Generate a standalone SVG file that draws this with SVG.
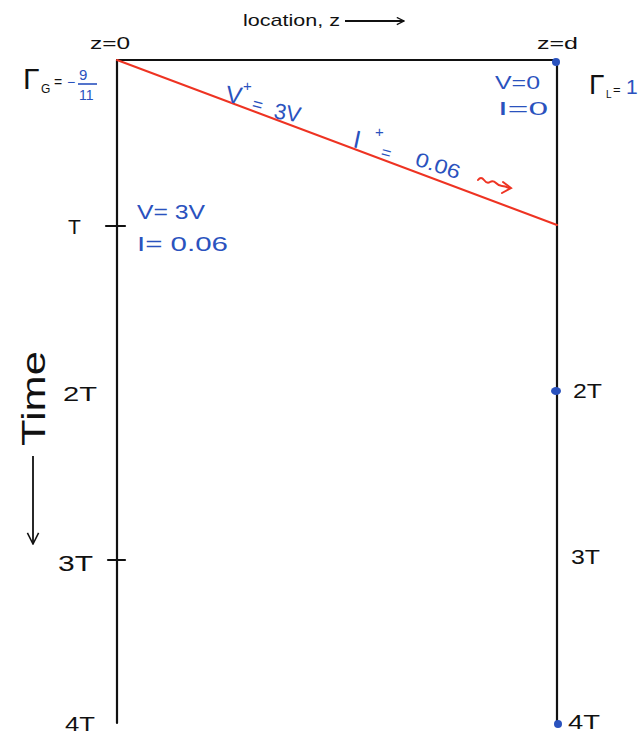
<svg xmlns="http://www.w3.org/2000/svg" width="639" height="748" viewBox="0 0 639 748">
<style>
.k{font-family:"Liberation Sans",Arial,sans-serif;fill:#111}
.b{font-family:"Liberation Sans",Arial,sans-serif;fill:#2a52be}
.ln{stroke:#111;stroke-width:2.2;fill:none;stroke-linecap:round}
.red{stroke:#ee3322;stroke-width:2;fill:none;stroke-linecap:round}
.dot{fill:#2a52be}
</style>
<defs>
<marker id="ah" viewBox="0 0 10 10" refX="9" refY="5" markerWidth="9" markerHeight="9" orient="auto" markerUnits="userSpaceOnUse">
<path d="M1,1 L9,5 L1,9" fill="none" stroke="#111" stroke-width="1.4"/>
</marker>
<marker id="ahd" viewBox="0 0 10 10" refX="9" refY="5" markerWidth="14" markerHeight="14" orient="auto" markerUnits="userSpaceOnUse">
<path d="M1,1 L9,5 L1,9" fill="none" stroke="#111" stroke-width="1.1"/>
</marker>
</defs>
<rect width="639" height="748" fill="#fff"/>
<g id="frame">
<path class="ln" d="M117,60 H557"/>
<path class="ln" d="M117,60 V723"/>
<path class="ln" d="M557,60 V723"/>
<path class="ln" d="M106,226 H125"/>
<path class="ln" d="M108,560 H125"/>
</g>
<g id="connectors">
<path class="red" d="M117,60 L557,225"/>
<path class="red" d="M478,180 q3,-4 6,0 t6,2 t6,1 t6,3 t7,2"/>
<path class="red" d="M503,182 L511,188 L502,193"/>
<path stroke="#111" stroke-width="1.8" fill="none" d="M345,21 H404" marker-end="url(#ah)"/>
<path stroke="#111" stroke-width="1.8" fill="none" d="M33,456 V544" marker-end="url(#ahd)"/>
</g>
<g id="dots">
<circle class="dot" cx="556" cy="62" r="4"/>
<ellipse class="dot" cx="556" cy="391" rx="5" ry="4"/>
<circle class="dot" cx="558" cy="724" r="4"/>
</g>
<g id="labels">
<text class="k" x="243" y="26" font-size="17" textLength="97" lengthAdjust="spacingAndGlyphs">location, z</text>
<text class="k" x="90" y="49" font-size="17" textLength="40" lengthAdjust="spacingAndGlyphs">z=0</text>
<text class="k" x="537" y="49" font-size="17" textLength="41" lengthAdjust="spacingAndGlyphs">z=d</text>
<text class="k" x="23" y="89" font-size="30">Γ</text>
<text class="k" x="41" y="93" font-size="12">G</text>
<text class="k" x="54" y="87" font-size="14">=</text>
<text class="b" x="67" y="87" font-size="14">−</text>
<text class="b" x="79" y="80" font-size="15">9</text>
<path stroke="#2a52be" stroke-width="1.6" d="M78,84 H97"/>
<text class="b" x="79" y="100" font-size="14">11</text>
<text class="k" x="589" y="94" font-size="28">Γ</text>
<text class="k" x="606" y="98" font-size="10">L</text>
<text class="k" x="613" y="94" font-size="13">=</text>
<text class="b" x="626" y="94" font-size="21">1</text>
<text class="b" x="495" y="89" font-size="18" textLength="45" lengthAdjust="spacingAndGlyphs">V=0</text>
<text class="b" x="498" y="115" font-size="18" textLength="50" lengthAdjust="spacingAndGlyphs">I=0</text>
<text class="b" x="225" y="102" font-size="24" transform="rotate(8 225 102)">V</text>
<text class="b" x="243" y="91" font-size="15">+</text>
<text class="b" x="251" y="109" font-size="18" transform="rotate(15 251 109)">=</text>
<text class="b" x="273" y="118" font-size="22" transform="rotate(10 273 118)">3V</text>
<text class="b" x="352" y="147" font-size="25" transform="rotate(12 352 147)">I</text>
<text class="b" x="375" y="137" font-size="15">+</text>
<text class="b" x="380" y="157" font-size="17" transform="rotate(15 380 157)">=</text>
<text class="b" x="414" y="165" font-size="20" textLength="46" lengthAdjust="spacingAndGlyphs" transform="rotate(18 414 165)">0.06</text>
<text class="b" x="137" y="219" font-size="21" textLength="68" lengthAdjust="spacingAndGlyphs">V= 3V</text>
<text class="b" x="137" y="251" font-size="21" textLength="91" lengthAdjust="spacingAndGlyphs">I= 0.06</text>
<text class="k" x="68" y="234" font-size="21">T</text>
<text class="k" x="63" y="401" font-size="21" textLength="34" lengthAdjust="spacingAndGlyphs">2T</text>
<text class="k" x="58" y="571" font-size="22" textLength="35" lengthAdjust="spacingAndGlyphs">3T</text>
<text class="k" x="65" y="731" font-size="21" textLength="30" lengthAdjust="spacingAndGlyphs">4T</text>
<text class="k" x="573" y="398" font-size="21" textLength="29" lengthAdjust="spacingAndGlyphs">2T</text>
<text class="k" x="571" y="564" font-size="21" textLength="29" lengthAdjust="spacingAndGlyphs">3T</text>
<text class="k" x="568" y="729" font-size="21" textLength="32" lengthAdjust="spacingAndGlyphs">4T</text>
<text class="k" transform="translate(45,446) rotate(-90)" x="0" y="0" font-size="34" textLength="95" lengthAdjust="spacingAndGlyphs">Time</text>
</g>
</svg>
